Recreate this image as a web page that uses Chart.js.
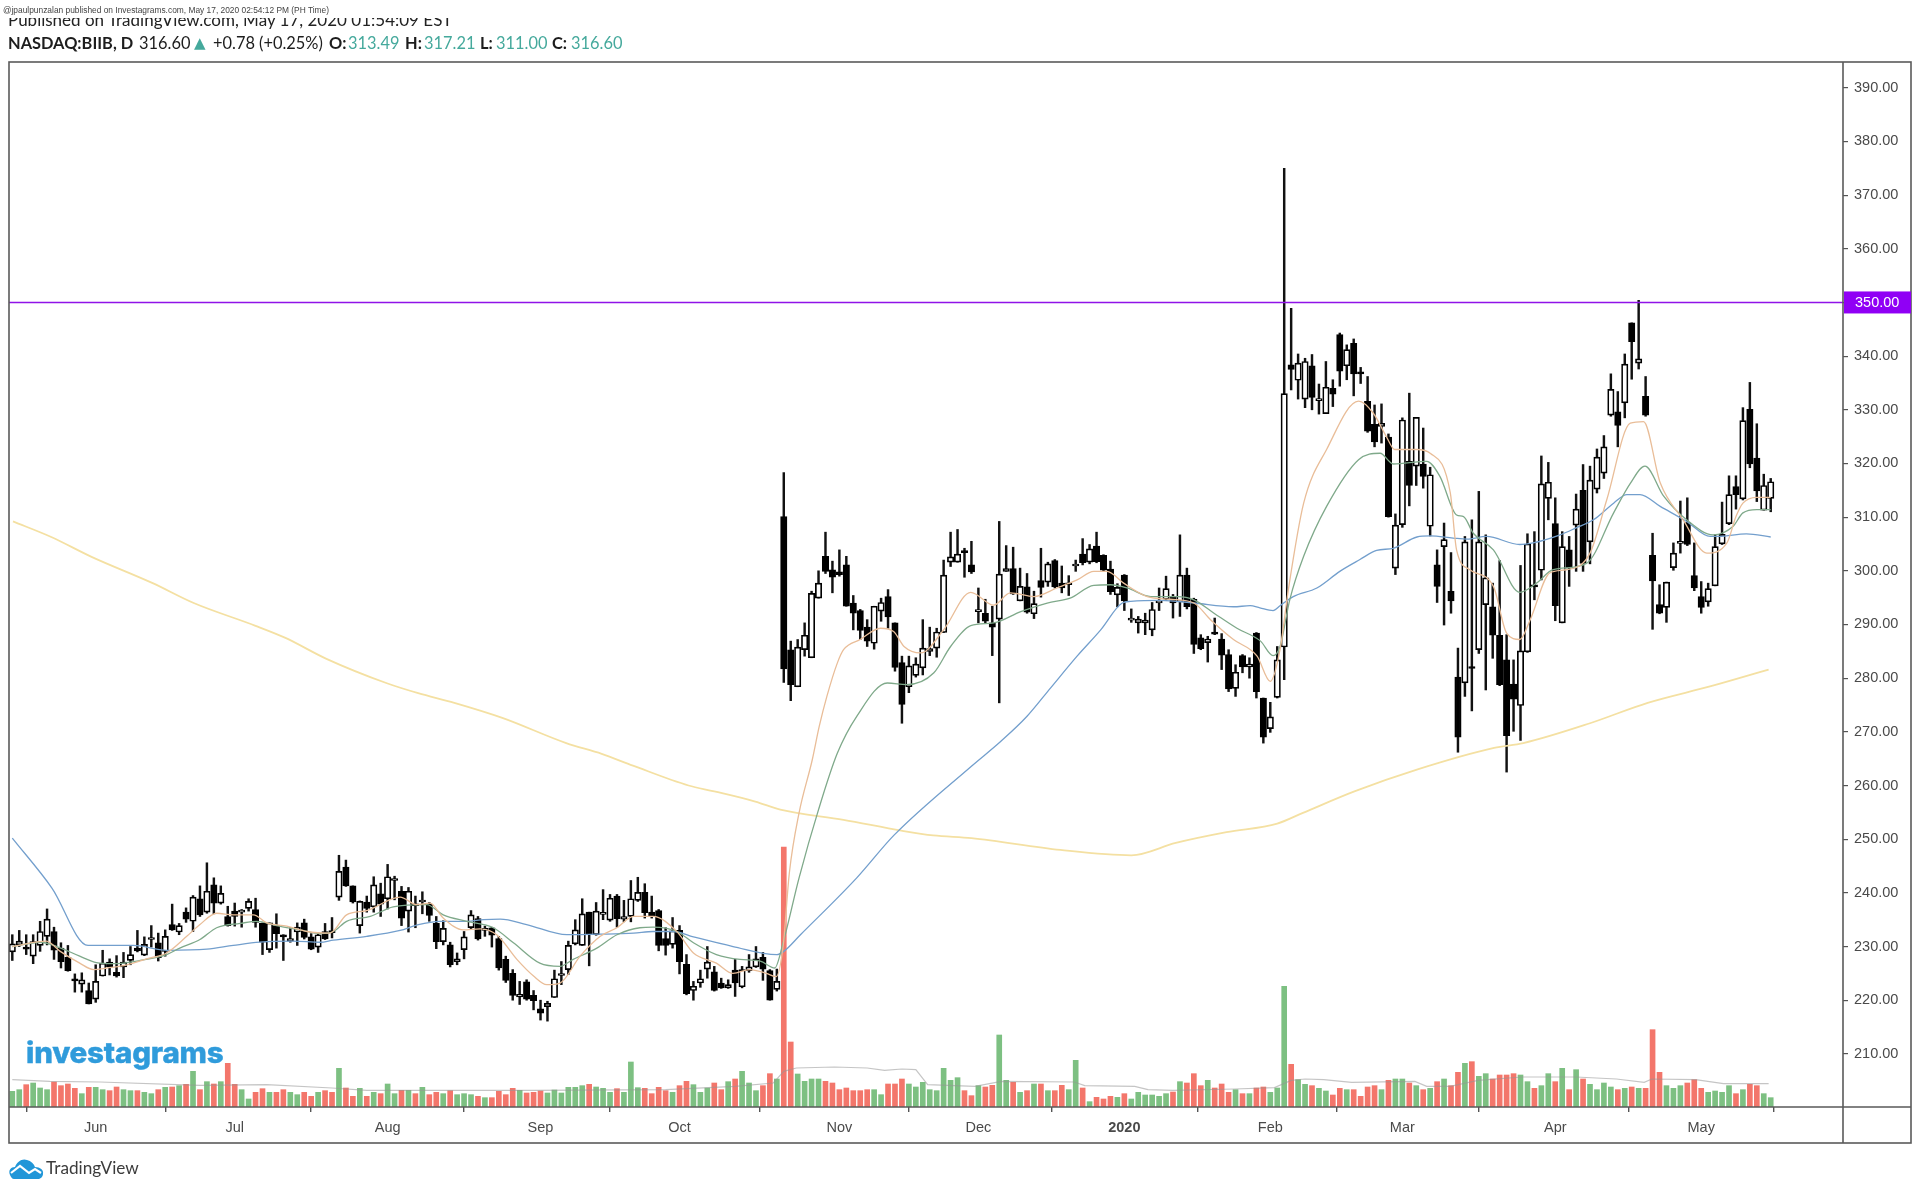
<!DOCTYPE html>
<html>
<head>
<meta charset="utf-8">
<title>NASDAQ:BIIB, D</title>
<script src="https://cdn.jsdelivr.net/npm/chart.js@4/dist/chart.umd.min.js"></script>
<style>
  html, body { margin: 0; padding: 0; background: #fff; width: 1920px; height: 1192px; overflow: hidden; }
  #chart { position: absolute; left: 0; top: 0; }
  .t { position: absolute; white-space: nowrap; }
  #byline { left: 3px; top: 5px; font: 8.4px "Liberation Sans", sans-serif; color: #444; }
  #published { left: 8px; top: 18px; height: 14px; overflow: hidden; color: #222; font: 17px/16px Lato, sans-serif; }
  #published span { position: relative; top: -5.6px; display: block; }
  .q { position: absolute; top: 32px; font: 16.4px/22px Lato, sans-serif; color: #1d1d1d; white-space: nowrap; }
  .q b { font-weight: 700; }
  .q.v { color: #45a99c; }
  .q.up { font: 15px/22px "DejaVu Sans", sans-serif; }
  #watermark { left: 26px; top: 1032px; font: 800 29.5px/40px Inter, sans-serif; color: #2f9bdb; -webkit-text-stroke: 0.4px #2f9bdb; letter-spacing: -0.2px; }
  #tvname { left: 46px; top: 1156px; font: 17.2px/24px Lato, sans-serif; color: #3c3c3c; }
  #tvlogo { position: absolute; left: 8px; top: 1158px; }
</style>
</head>
<body>
<canvas id="chart" width="1920" height="1192"></canvas>
<div class="t" id="byline">@jpaulpunzalan published on Investagrams.com, May 17, 2020 02:54:12 PM (PH Time)</div>
<div class="t" id="published"><span>Published on TradingView.com, May 17, 2020 01:54:09 EST</span></div>
<div class="q" style="left:8px"><b>NASDAQ:BIIB, D</b></div>
<div class="q" style="left:139px">316.60</div>
<div class="q v up" style="left:194px">▲</div>
<div class="q" style="left:213px">+0.78 (+0.25%)</div>
<div class="q" style="left:329px"><b>O:</b></div><div class="q v" style="left:348px">313.49</div>
<div class="q" style="left:405px"><b>H:</b></div><div class="q v" style="left:424px">317.21</div>
<div class="q" style="left:480px"><b>L:</b></div><div class="q v" style="left:496px">311.00</div>
<div class="q" style="left:552px"><b>C:</b></div><div class="q v" style="left:571px">316.60</div>
<div class="t" id="watermark">investagrams</div>
<svg id="tvlogo" width="36" height="21" viewBox="0 0 36 21">
  <path fill="#2196d8" d="M2 17C0 12 3 9 7 9C9 4 14 0 19 2C23 3 26 6 27 9C32 9 36 12 35 16C35 19 32 21 30 21H6C4 21 3 19 2 17Z"/>
  <path fill="none" stroke="#fff" stroke-width="2.2" d="M3 15L12 8L21 15L27 11L33 15"/>
</svg>
<div class="t" id="tvname">TradingView</div>

<script>
// Daily BIIB candles, May 2019 to May 2020.
const open = [
  229.0,230.3,229.7,228.2,230.2,231.9,232.8,229.7,228.0,223.7,
  223.0,221.8,220.2,224.5,227.1,225.2,226.2,227.4,229.7,228.4,
  231.3,230.7,229.1,234.1,232.7,236.4,234.7,238.9,236.4,241.5,
  238.1,235.6,236.6,236.4,237.1,236.9,234.3,229.4,233.9,231.9,
  231.0,232.7,234.4,231.8,229.9,232.8,232.7,239.2,244.8,241.3,
  233.9,238.3,237.4,239.8,238.9,242.3,240.3,236.6,237.8,238.3,
  237.9,234.3,230.9,230.3,227.2,229.4,233.5,235.2,233.0,233.5,
  231.5,227.6,225.0,220.6,223.4,220.9,218.4,218.8,220.5,224.6,
  225.7,230.5,230.2,236.4,232.2,236.0,234.9,239.4,235.1,235.6,
  238.6,240.1,236.4,236.7,231.5,230.4,233.0,226.7,221.8,223.2,
  225.8,225.3,223.2,222.3,225.6,222.5,225.5,226.2,228.0,225.5,
  222.0,310.1,285.3,278.4,285.3,283.8,294.9,302.7,300.2,299.8,
  301.1,294.0,292.6,289.5,286.5,292.5,295.2,290.3,282.9,278.4,
  280.5,281.9,285.0,285.6,288.5,301.6,301.6,303.6,301.1,292.4,
  292.1,290.3,291.0,299.9,300.4,294.4,297.0,292.0,298.2,297.9,
  301.9,297.7,297.4,300.9,303.1,301.6,304.6,302.9,300.3,295.5,
  299.2,290.8,290.3,290.3,289.0,294.0,294.7,295.1,294.2,299.2,
  294.7,287.5,286.6,288.4,287.3,284.4,278.1,284.2,282.1,288.4,
  276.3,270.6,276.4,285.8,338.4,335.5,332.0,338.2,331.7,329.3,
  334.0,344.0,338.2,342.4,336.8,331.6,327.3,326.9,324.9,300.5,
  308.6,320.4,319.5,319.9,308.3,301.1,304.5,296.2,280.2,279.1,
  281.9,285.3,293.7,293.3,288.0,283.4,278.9,274.9,284.9,297.1,
  300.1,313.5,308.8,290.3,303.9,308.5,315.0,305.4,315.2,318.2,
  329.0,329.6,331.3,346.2,338.7,332.5,302.9,293.7,293.2,300.6,
  305.1,309.0,299.1,295.2,294.2,297.2,305.0,308.8,315.7,313.4,
  330.1,321.0,311.3,313.49
];
const close = [
  230.5,231.0,229.5,230.9,232.8,235.1,229.3,227.2,225.5,223.6,
  223.8,219.3,223.5,226.9,226.2,224.5,227.1,228.5,229.2,230.4,
  231.5,227.9,231.9,233.1,233.9,235.1,239.2,235.9,240.3,238.1,
  239.9,233.9,235.6,236.5,238.4,234.5,230.8,234.4,232.4,231.8,
  231.5,233.6,231.7,229.5,232.2,231.4,232.6,244.0,241.3,238.3,
  238.4,237.1,241.5,237.9,243.0,242.5,235.3,240.3,237.6,238.4,
  235.8,230.9,233.4,226.6,227.7,231.8,235.9,231.4,233.1,232.1,
  226.0,223.7,220.9,221.1,220.2,219.9,217.6,219.4,224.0,224.8,
  230.2,233.1,236.1,232.3,236.6,236.1,239.0,235.2,235.6,238.9,
  240.1,236.3,235.6,230.2,230.2,232.9,227.2,221.2,222.6,224.0,
  227.1,221.8,222.3,222.9,223.2,225.7,226.2,227.7,225.8,220.0,
  223.5,281.7,278.8,285.8,288.0,295.8,297.7,299.9,298.8,299.3,
  293.4,292.1,288.9,286.9,293.4,294.1,291.4,282.0,275.1,282.3,
  282.6,285.6,285.5,288.6,299.2,302.6,303.1,303.4,299.8,292.6,
  290.6,289.5,299.4,300.4,295.7,297.1,292.3,293.9,296.9,301.3,
  297.0,296.8,297.6,301.1,301.5,304.1,301.7,300.1,296.1,296.9,
  294.4,291.0,291.0,290.8,292.8,294.4,296.7,294.0,299.2,293.3,
  286.3,285.5,287.3,288.2,284.3,278.0,281.1,282.1,282.6,277.5,
  269.0,272.8,283.4,333.0,337.5,338.7,339.0,332.3,331.8,334.2,
  332.9,337.2,341.2,336.7,336.7,326.0,324.0,327.5,310.1,308.5,
  328.1,315.9,328.6,317.6,317.9,297.1,305.8,294.4,269.0,305.4,
  281.8,305.4,298.7,288.0,278.8,269.3,276.1,285.1,305.0,297.0,
  316.2,316.5,293.5,304.5,300.5,311.5,301.4,316.9,321.2,323.1,
  333.8,327.1,338.5,342.7,339.5,329.0,298.1,292.1,297.9,303.3,
  305.3,304.9,296.8,293.2,296.7,304.5,306.8,314.2,314.2,328.0,
  319.9,314.9,315.9,316.60
];
const high = [
  232.2,233.0,232.2,232.2,234.7,237.0,233.6,230.7,230.2,224.9,
  225.1,223.2,226.6,229.3,227.7,228.3,228.9,230.0,233.0,231.8,
  233.9,232.5,233.1,237.9,234.3,237.2,239.5,241.3,245.6,242.8,
  241.3,237.5,238.1,236.9,238.9,239.0,234.4,234.4,236.1,232.2,
  233.5,234.4,235.1,232.4,232.5,234.3,235.4,247.0,246.1,241.3,
  238.5,239.4,243.0,241.8,245.3,243.1,241.2,241.0,239.4,240.2,
  238.2,235.6,234.8,230.8,228.8,232.8,236.7,235.6,233.8,233.6,
  231.9,228.2,225.7,223.5,223.8,221.8,220.0,219.8,225.6,227.2,
  231.0,235.0,238.9,236.4,238.2,240.6,239.7,239.7,238.6,242.3,
  242.9,241.7,239.4,236.9,233.5,235.4,233.9,228.5,223.5,225.6,
  230.0,226.3,224.1,223.8,227.6,226.3,228.5,230.0,228.9,225.7,
  225.8,318.3,286.9,287.2,290.3,296.2,300.0,307.2,301.8,303.9,
  302.7,295.4,292.8,290.9,293.4,294.9,296.5,290.3,284.1,284.1,
  283.8,290.9,289.5,289.3,302.0,307.2,307.7,304.2,305.5,296.8,
  294.7,293.4,309.2,304.7,304.4,300.5,299.5,296.2,304.2,301.6,
  302.1,300.9,299.1,302.0,306.0,304.9,307.2,303.0,301.8,297.6,
  299.3,292.9,291.5,292.1,294.1,296.8,299.0,295.6,306.7,300.5,
  294.9,288.1,287.8,291.2,288.3,285.3,282.5,284.4,283.8,288.5,
  276.3,275.5,285.9,375.0,348.9,340.4,339.6,340.3,334.8,339.0,
  335.6,344.3,342.1,343.2,337.9,336.2,330.9,331.1,325.5,310.6,
  328.5,333.1,328.6,326.6,319.3,303.9,308.9,303.4,285.6,306.4,
  309.5,314.8,306.7,297.7,301.9,288.1,283.4,301.0,306.9,307.3,
  321.4,320.2,313.6,307.3,306.4,314.3,319.8,319.5,322.7,325.2,
  336.7,333.4,340.4,346.2,350.4,336.2,307.0,297.4,297.9,305.2,
  313.0,313.6,305.2,298.0,297.7,306.7,312.8,317.7,317.7,330.4,
  335.1,327.4,318.0,317.21
];
const low = [
  227.4,230.0,228.5,226.8,229.1,230.3,227.6,226.0,225.4,221.5,
  221.5,219.3,219.6,224.5,224.7,224.3,224.2,226.6,229.0,228.3,
  229.9,227.3,228.2,233.0,232.2,234.5,232.8,235.6,236.2,236.1,
  237.9,233.8,233.8,233.6,236.6,233.6,228.5,228.9,229.7,227.4,
  230.8,230.2,231.4,229.4,228.9,231.3,231.6,238.6,241.2,238.1,
  232.5,236.4,236.4,235.6,237.0,238.7,233.9,232.7,233.5,236.1,
  234.7,229.6,230.3,226.2,226.6,227.7,233.3,231.2,231.9,229.9,
  225.6,223.3,220.0,219.2,220.0,218.2,216.3,216.1,220.5,222.9,
  224.8,230.3,230.2,226.4,232.1,235.0,234.7,233.6,234.6,234.6,
  238.4,235.3,235.3,229.2,228.4,229.7,224.9,221.0,220.0,222.4,
  224.1,221.7,222.2,222.2,220.7,222.3,225.2,226.1,223.7,220.0,
  221.7,279.2,275.8,278.4,284.1,283.8,294.9,299.5,295.9,299.0,
  293.4,289.0,287.2,285.9,285.4,290.6,289.3,281.3,271.6,277.3,
  280.2,280.6,284.2,283.9,288.5,300.8,301.6,298.8,299.5,290.3,
  290.2,284.2,275.4,299.9,295.6,294.4,292.1,291.1,295.1,297.1,
  296.8,295.9,295.4,299.9,301.1,301.3,301.5,299.9,295.6,293.3,
  292.6,290.4,288.4,288.1,287.9,292.6,294.5,291.2,291.5,292.9,
  284.6,285.3,283.0,288.1,281.6,277.5,276.6,281.0,280.0,276.3,
  267.9,269.9,276.3,279.7,333.7,332.0,330.4,330.0,329.2,329.3,
  330.6,334.4,335.6,332.6,334.9,325.8,323.1,323.8,310.0,299.3,
  308.1,312.1,315.9,315.4,306.5,294.1,289.9,292.1,266.2,276.6,
  273.9,284.6,277.8,283.7,278.6,262.5,270.1,268.4,284.8,294.6,
  298.3,309.5,290.7,290.3,297.1,299.9,299.9,301.3,314.5,317.2,
  328.8,323.1,328.5,335.7,337.6,328.8,289.1,292.0,290.4,300.1,
  303.3,304.7,296.3,292.1,293.4,297.2,304.9,308.6,311.5,313.2,
  319.2,312.9,311.3,311.00
];
const volume = [
  47,52,67,72,57,52,75,64,69,56,
  40,59,59,52,49,60,52,49,49,44,
  40,52,59,60,64,68,107,52,76,69,
  76,131,68,52,24,44,55,44,44,52,
  44,37,44,32,44,49,44,116,57,32,
  56,32,44,40,69,40,50,50,40,59,
  37,44,40,49,37,40,37,32,28,28,
  47,37,56,50,42,44,48,42,51,42,
  59,59,64,68,60,56,44,55,44,135,
  58,56,40,59,49,44,64,77,67,44,
  57,72,52,76,84,107,72,49,64,100,
  84,780,195,99,77,84,84,77,72,52,
  57,49,49,52,52,37,69,69,84,69,
  60,74,52,49,116,80,88,49,34,64,
  60,65,216,80,74,44,49,69,69,49,
  49,65,52,140,57,16,29,24,32,29,
  40,24,44,36,36,32,40,45,76,72,
  100,64,80,57,69,44,52,40,40,57,
  60,44,57,362,128,82,68,64,56,48,
  36,56,52,52,32,60,64,52,80,84,
  84,72,64,52,56,76,84,64,104,131,
  136,92,100,84,96,96,100,96,76,56,
  64,100,76,116,52,112,84,68,52,72,
  60,52,56,60,56,56,232,104,64,56,
  64,72,82,56,44,48,44,64,40,52,
  68,64,40,28
];

// Moving averages, read as (bar index, level) vertices.
const fastIdx = [0,4.9,6.9,9.7,11.7,13.6,16.5,19.3,22.2,25.1,27,29.4,31.8,34.7,36.6,39.5,42.4,45.7,48.1,51,55.8,58.2,60.1,62,64.9,67.3,69.7,72.6,75,76.9,78.8,81.7,84.6,87,89.4,92.2,95.6,98,101.3,103.7,106.1,108.5,109.9,110.9,111.8,113.2,115.1,116.1,117.2,118.7,119.6,122,124.9,126.8,128.3,130.7,134,137.9,141.2,143.6,147,150.3,153.2,155.6,157.5,159.9,163.3,166.6,170,172.4,175.7,179.1,181,182.4,183.6,185.8,189.1,193.7,195.8,197.7,198.9,202.1,204,206.9,207.8,209.7,213.1,215,216.9,218.4,221.2,223.6,227,229.4,232.8,234.7,237.1,240.4,243.8,246.7,248,249,251,253];
const fastVal = [230,231,229.1,226.9,225.7,226,226.6,227.7,228.8,231.9,234.1,236.2,235.9,235.9,234.4,233.8,232.8,232.5,235.9,236.7,239.2,237.8,238.1,235.3,233.1,233.3,232.2,227.6,224.5,222.9,223.2,228.2,231.9,233.5,235.6,235.6,232.8,228.8,226.9,225,225.7,225,224.4,230,243.7,254.9,264.8,271,276.6,282.8,285.3,287.2,289.3,288.7,285.9,284.7,289,296,293.6,295.9,295.2,296.8,298.3,299.9,299.9,297.7,295.2,294.7,294,290.9,287.2,284.1,279.4,285.3,296.5,312.6,322.6,331.6,329.4,325,322.6,322.6,321.9,314.5,303.9,300.2,297.1,288.4,287.2,290.9,299.6,300.2,303.3,313.2,327.5,327.8,316.4,309.5,303.3,305.2,310.1,312.6,313.7,313.7];
const midIdx = [0,4,6.4,9.7,12.1,14.5,18.4,22.2,24.1,27,29.4,32.8,35.2,38,41.4,44.3,46.2,48.1,51.5,54.8,59.6,62,65.4,69.2,72.1,75.9,78.8,80.7,84.1,87,90.3,92.2,95.6,98,101.3,104.7,107.6,109.7,110.9,113.2,116,118.7,121.5,125.9,128.7,132.6,135,137.9,141.2,145.1,148.9,152.2,155.6,158,160.4,163.8,167.6,170,172.9,176.2,179.6,181.4,182.4,183.8,185.8,189.1,193.7,196.8,198.7,203.5,205.4,207.8,208.8,210.2,213.1,216.9,219.3,221.7,226.5,230.4,232.8,234.9,237.6,240.9,244.7,247.6,249,251,253];
const midVal = [230,230.8,230,228.2,227,226.8,227.4,228.5,229.7,231.3,233.5,234.3,234.7,233.9,233.1,232.4,232.8,234.7,235.6,237.4,237.8,235.9,234.7,233.5,230.7,226.9,226.3,227.6,229.7,232.2,233.5,233.6,232.8,230.7,228.5,227.6,227.3,226,230.7,242.8,255.5,266,272.9,279.1,278.8,281,285.9,289.8,290.3,292.4,294,294.9,297.3,297.4,296.8,295.2,295.2,294.6,292.1,289.3,286.9,284.2,285.9,294.6,302.7,312,320.7,321.9,319.9,320.4,317.6,310.4,310.1,307,303.9,296,297.7,300.2,301.4,310.8,316.3,319.5,313.9,309.5,306.7,308.3,310.8,311.4,311.4];
const slowIdx = [0,5.7,10.9,15,17.4,22.2,28,31.8,35.6,40.4,44.3,46.2,51,55.8,58.2,61.5,65.4,67.8,70.2,74,79.8,84.6,89.4,92.2,95.1,98,103.7,110,111,113.4,121.5,126.9,138,142.2,146,149.4,153.2,156.6,159.7,160.9,165.2,170,175.7,178.1,179.5,181.4,182.4,184.3,187.7,191,193.9,196.3,198.7,202.1,204,207.3,209.3,212.1,216.9,218.8,222.7,225,227.5,230.4,232.3,234.2,237.1,240.9,244.3,245.5,249.5,253];
const slowVal = [250.2,240.9,230.2,230.2,230.2,229.3,229.5,230.2,230.8,231,230.8,231.2,231.9,233,234,234.7,234.7,235,235.1,234.1,232.2,232.3,232.5,232.8,232.8,231.8,230,228.5,229.1,232.2,242.8,250.8,263.6,268.2,272.9,278.2,284.1,289,294,294.3,294.5,294,293.3,293.5,293.1,292.6,293.5,295.2,296.8,299.9,302.1,303.8,304.2,306.3,306.5,306.1,305.9,306.4,304.9,305.2,306.7,308,309.5,312.6,314.2,314.2,312,309.2,306.4,306.4,306.9,306.3];
const longIdx = [0.1,5.6,11.4,20.2,26.1,34.9,39.3,45.2,54,58.4,63.6,70.5,79.7,84.8,89.3,97.3,101,106.9,110.5,119.6,127.9,132.5,138,150.8,161,167.4,174.7,182,185.7,193.1,202.2,213.2,217.4,227,235.3,244.4,252.7];
const longVal = [309.2,306.3,302.6,297.7,294,289.8,287.5,283.6,279,277.2,275.4,272.6,267.9,265.9,263.7,260,258.9,257,255.5,253.6,251.6,250.7,250.2,248,247,249.3,251.3,252.9,254.9,258.9,263,267,267.9,271.6,275.4,278.5,281.6];
const volAvgIdx = [0,5.4,12.6,27,36.6,46,51,60,75,94,104,109.5,111,112.8,118.3,123,125.5,128,130,131.7,138.5,142.3,152.8,154.3,161.5,163.4,167,175.9,181.6,184,186,188.7,192.7,201.8,203.5,206.9,210.9,217.2,225,230.8,234.8,235.9,242.2,246.2,252.7];
const volAvgVal = [82,77,75,65,67,57,50,50,50,52,62,72,107,117,120,117,110,114,112,67,62,77,75,64,62,52,50,54,58,80,84,82,74,77,62,62,80,90,90,84,74,84,82,70,70];

const priceTicks = [210,220,230,240,250,260,270,280,290,300,310,320,330,340,350,360,370,380,390];
const monthIdx = [12,32,54,76,96,119,139,160,181,200,222,243];
const monthLabels = ['Jun','Jul','Aug','Sep','Oct','Nov','Dec','2020','Feb','Mar','Apr','May'];
const levelPrice = 350;

const bars = open.map((_, i) => i);
const isUp = i => close[i] >= open[i];
const pairs = (xs, ys) => xs.map((x, k) => ({ x, y: ys[k] }));
const VIEW_MIN = -0.475, VIEW_MAX = 263.4;

// Pane frame and the price tag of the horizontal level.
const framePlugin = {
  id: 'frame',
  afterDraw(chart) {
    const { ctx, chartArea: a } = chart;
    const outerR = chart.width - 9, outerB = a.bottom + 36;
    ctx.save();
    ctx.strokeStyle = '#5a5a5a';
    ctx.lineWidth = 1.6;
    ctx.strokeRect(a.left, a.top, outerR - a.left, outerB - a.top);
    ctx.beginPath();
    ctx.moveTo(a.right, a.top); ctx.lineTo(a.right, outerB);
    ctx.moveTo(a.left, a.bottom); ctx.lineTo(outerR, a.bottom);
    ctx.stroke();
    const y = chart.scales.y.getPixelForValue(levelPrice);
    ctx.fillStyle = '#9000f5';
    ctx.fillRect(a.right + 1, y - 11, outerR - a.right - 1, 22);
    ctx.fillStyle = '#fff';
    ctx.font = '14.5px "Liberation Sans", sans-serif';
    ctx.textBaseline = 'middle';
    ctx.fillText(levelPrice.toFixed(2), a.right + 12, y + 0.5);
    ctx.restore();
  }
};

const thinLine = (label, data, color, width, order) => ({
  type: 'line', label, data, yAxisID: 'y', borderColor: color, borderWidth: width,
  pointRadius: 0, cubicInterpolationMode: 'monotone', order
});

new Chart(document.getElementById('chart'), {
  type: 'bar',
  plugins: [framePlugin],
  data: {
    datasets: [
      { label: 'Volume', yAxisID: 'yVol', grouped: false, barThickness: 5, order: 9,
        data: bars.map(i => ({ x: i, y: volume[i] })),
        backgroundColor: bars.map(i => isUp(i) ? '#7dc082' : '#f3766b') },
      { type: 'line', label: 'Volume MA', yAxisID: 'yVol', order: 8, data: pairs(volAvgIdx, volAvgVal),
        borderColor: 'rgba(150,150,150,0.55)', borderWidth: 1.2, pointRadius: 0 },
      { label: 'Wick', yAxisID: 'y', grouped: false, barThickness: 1.8, order: 7,
        data: bars.map(i => ({ x: i, y: [low[i], high[i]] })), backgroundColor: '#111' },
      { label: 'Body', yAxisID: 'y', grouped: false, barThickness: 6.4, order: 6, minBarLength: 2,
        data: bars.map(i => ({ x: i, y: [open[i], close[i]] })),
        backgroundColor: bars.map(i => isUp(i) ? '#fff' : '#000'),
        borderColor: '#000', borderWidth: 1.7, borderSkipped: false },
      thinLine('MA 200', pairs(longIdx, longVal), '#f4e0a2', 1.8, 5),
      thinLine('MA 50', pairs(slowIdx, slowVal), '#739fcd', 1.3, 4),
      thinLine('MA 20', pairs(midIdx, midVal), '#7fa98a', 1.3, 3),
      thinLine('MA 9', pairs(fastIdx, fastVal), '#e9bd98', 1.3, 2),
      { type: 'line', label: 'Level', yAxisID: 'y', order: 1, pointRadius: 0,
        data: [{ x: VIEW_MIN, y: levelPrice }, { x: VIEW_MAX, y: levelPrice }],
        borderColor: '#9013e8', borderWidth: 1.5 }
    ]
  },
  options: {
    responsive: false,
    animation: false,
    devicePixelRatio: 1,
    layout: { padding: { left: 9, top: 62, right: 9, bottom: 49 } },
    plugins: { legend: { display: false }, tooltip: { enabled: false } },
    scales: {
      x: {
        type: 'linear', offset: false, min: VIEW_MIN, max: VIEW_MAX,
        afterBuildTicks: s => { s.ticks = monthIdx.map(value => ({ value })); },
        afterFit: s => { s.height = 36; },
        border: { display: false },
        grid: { drawOnChartArea: false, drawTicks: true, tickLength: 5, tickColor: '#555', lineWidth: 1.4 },
        ticks: {
          autoSkip: false, maxRotation: 0, padding: 7, color: '#4a4a4a',
          font: ctx => ({ family: '"Liberation Sans", sans-serif', size: 14.5,
            weight: ctx.tick && monthLabels[monthIdx.indexOf(ctx.tick.value)] === '2020' ? 'bold' : 'normal' }),
          callback: v => monthLabels[monthIdx.indexOf(v)]
        }
      },
      y: {
        position: 'right', min: 200.1, max: 394.8,
        afterBuildTicks: s => { s.ticks = priceTicks.map(value => ({ value })); },
        afterFit: s => { s.width = 68; },
        border: { display: false },
        grid: { drawOnChartArea: false, drawTicks: true, tickLength: 5, tickColor: '#555', lineWidth: 1.2 },
        ticks: {
          padding: 6, color: '#4a4a4a',
          font: { family: '"Liberation Sans", sans-serif', size: 14.5 },
          callback: v => v.toFixed(2)
        }
      },
      yVol: { display: false, min: 0, max: 3135 }
    }
  }
});
</script>
</body>
</html>
